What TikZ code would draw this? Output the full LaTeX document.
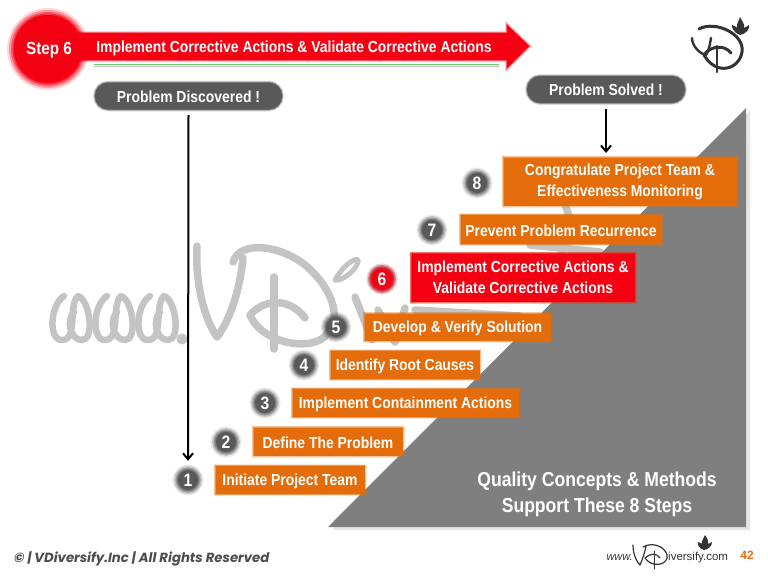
\documentclass[tikz,border=0pt]{standalone}
\usepackage{fontspec}
\setmainfont{Liberation Sans}[FakeStretch=0.87]
\newfontfamily\footfont{Poppins}
\newfontfamily\plainfont{Liberation Sans}
\usetikzlibrary{arrows.meta}
\definecolor{orangebox}{HTML}{E46C0A}
\definecolor{redbox}{HTML}{F40012}
\definecolor{pillgray}{HTML}{595959}
\definecolor{trigray}{HTML}{7F7F7F}
\definecolor{wmgray}{HTML}{C4C4C4}
\definecolor{inkgray}{HTML}{333333}
\tikzset{
  soft/.style={fill=#1,
    preaction={draw=#1,line width=4pt,opacity=.15},
    preaction={draw=#1,line width=2.5pt,opacity=.3},
    preaction={draw=#1,line width=1.2pt,opacity=.5}},
  softbig/.style={fill=#1,
    preaction={draw=#1,line width=14pt,opacity=.15},
    preaction={draw=#1,line width=10pt,opacity=.3},
    preaction={draw=#1,line width=6pt,opacity=.4},
    preaction={draw=#1,line width=3pt,opacity=.5}},
  softnum/.style={fill=#1,
    preaction={draw=#1,line width=11pt,opacity=.12},
    preaction={draw=#1,line width=8pt,opacity=.25},
    preaction={draw=#1,line width=5pt,opacity=.4},
    preaction={draw=#1,line width=2.5pt,opacity=.5}},
  stepbox/.style={soft=orangebox,inner sep=0pt,align=center,text=white,
    execute at begin node={\rule{0pt}{15pt}},
    font=\fontsize{16}{21}\selectfont\bfseries},
  numdot/.style={circle,softnum=pillgray,minimum size=20pt,inner sep=0pt,text=white,
    font=\fontsize{18}{18}\selectfont\bfseries},
  pill/.style={rounded corners=13pt,soft=pillgray,inner sep=0pt,text=white,
    execute at begin node={\rule{0pt}{13pt}},
    font=\fontsize{16}{18}\selectfont\bfseries},
  flow/.style={black,line width=2pt,-{Straight Barb[length=6pt,width=10pt,line width=2pt]}},
  wm/.style={draw=wmgray,line width=7.5pt,line cap=round,line join=round},
  ink/.style={draw=inkgray,line width=2.4pt,line cap=round,line join=round},
  inks/.style={draw=inkgray,line width=1pt,line cap=round,line join=round},
}
\begin{document}
\begin{tikzpicture}[x=1pt,y=-1pt]
\useasboundingbox (0,0) rectangle (768,576);
% watermark
\foreach \dx in {0,43,86}{
\begin{scope}[xshift=\dx pt]
\draw[wm,line width=6.5pt] (64,296) .. controls (50,305) and (48,340) .. (62,340) .. controls (78,340) and (68,305) .. (78,296) .. controls (90,300) and (95,340) .. (82,340) .. controls (70,340) and (66,320) .. (74,312);
\end{scope}}
\fill[wmgray] (182,339) circle (5.5pt);
\draw[wm] (197,246) .. controls (195,285) and (205,320) .. (217,337) .. controls (230,320) and (240,290) .. (243,258);
\draw[wm] (233,262) .. controls (240,240) and (280,245) .. (305,265) .. controls (335,290) and (345,325) .. (320,340) .. controls (300,350) and (260,340) .. (250,315) .. controls (265,298) and (290,298) .. (305,318);
\draw[wm] (274,277) -- (274,349);
\draw[wm,line width=5pt] (335,280) .. controls (345,262) and (360,255) .. (358,262) .. controls (355,272) and (340,282) .. (335,280);
\draw[wm] (355,297) -- (372,340);
\draw[wm] (378,310) -- (395,342) -- (405,308);
\draw[wm] (415,310) -- (520,316);
\draw[wm] (530,245) -- (600,252);
\draw[wm] (563,198) -- (572,225) -- (556,268);
\draw[wm] (555,240) -- (600,268);
% triangle
\fill[gray!40,opacity=.5] (332,530) -- (750,530) -- (750,110) -- cycle;
\fill[trigray] (328,527) -- (746,527) -- (746,108) -- cycle;
% header bar
\fill[softbig=redbox,draw=none] (48,49) circle (34pt);
\path[soft=redbox] (70,33) -- (507,33) -- (507,25) -- (529,46) -- (507,68) -- (507,60) -- (70,60) -- cycle;
\fill[redbox] (48,49) circle (34pt);
\draw[draw=black!25,line width=.6pt] (94,66) -- (499,66);
\draw[draw=green!45!gray!80,line width=1.6pt] (94,64.5) -- (499,64.5);
\node (stepname) [text=white,font=\fontsize{17.5}{18}\selectfont\bfseries] at (49,50) {Step 6};
\node (stepdesc) [text=white,font=\fontsize{16}{18}\selectfont\bfseries] at (294,48) {Implement Corrective Actions \& Validate Corrective Actions};
% pills
\node (found) [pill,minimum width=187pt,minimum height=27pt] at (188.5,96) {Problem Discovered !};
\node (solved) [pill,minimum width=158pt,minimum height=27pt] at (606,89.5) {Problem Solved !};
% boxes
\node (b8) [stepbox,minimum width=233pt,minimum height=48pt] at (620,181.5) {Congratulate Project Team \&\\Effectiveness Monitoring};
\node (b7) [stepbox,minimum width=201pt,minimum height=29pt] at (561,229.5) {Prevent Problem Recurrence};
\node (b6) [stepbox,soft=redbox,minimum width=223pt,minimum height=48pt] at (523,277.5) {Implement Corrective Actions \&\\Validate Corrective Actions};
\node (b5) [stepbox,minimum width=186pt,minimum height=27pt] at (457.5,327) {Develop \& Verify Solution};
\node (b4) [stepbox,minimum width=149pt,minimum height=28pt] at (405,365) {Identify Root Causes};
\node (b3) [stepbox,minimum width=226pt,minimum height=28pt] at (405.5,403) {Implement Containment Actions};
\node (b2) [stepbox,minimum width=149pt,minimum height=28pt] at (328,441.5) {Define The Problem};
\node (b1) [stepbox,minimum width=149pt,minimum height=28pt] at (290,480) {Initiate Project Team};
% numbers
\node (n8) [numdot] at (477,183) {8};
\node (n7) [numdot] at (432,230) {7};
\node (n6) [numdot,softnum=redbox] at (382,279) {6};
\node (n5) [numdot] at (336,327) {5};
\node (n4) [numdot] at (304,365) {4};
\node (n3) [numdot] at (265,403) {3};
\node (n2) [numdot] at (226,442) {2};
\node (n1) [numdot] at (188,480) {1};
% arrows
\draw[flow,shorten >=9pt] (found.south |- 0,115) -- (n1.north);
\draw[flow] (solved.south |- 0,109) -- (606,153);
% triangle text
\node (quality) [text=white,align=center,font=\fontsize{20.2}{26}\selectfont\bfseries] at (597,494) {Quality Concepts \& Methods\\Support These 8 Steps};
% footer
\node (copy) [anchor=west,inner sep=0pt,text=black!70,font=\footfont\fontsize{13.25}{15}\selectfont\bfseries\itshape] at (14,558.5) {© | VDiversify.Inc | All Rights Reserved};
\node (page) [text=orangebox,font=\plainfont\fontsize{12}{14}\selectfont\bfseries] at (747,555) {42};
% top logo
\draw[ink] (692,38) .. controls (692,46) and (700,54) .. (706,55) .. controls (709,50) and (710,44) .. (711,38);
\draw[ink,line width=3pt] (699,29) .. controls (715,20) and (745,34) .. (742,52) .. controls (739,70) and (716,76) .. (704,55) .. controls (710,46) and (724,44) .. (731,53);
\draw[ink] (717,46) -- (717,72);
\fill[inkgray] (740,35) .. controls (734,33) and (731,27) .. (732,25) .. controls (735,26) and (736,27) .. (737,28) .. controls (736,24) and (739,21) .. (740,17) .. controls (742,21) and (745,24) .. (744,28) .. controls (746,27) and (748,26) .. (749,25) .. controls (750,29) and (746,34) .. (740,35) -- cycle;
% bottom logo
\node (foot1) [anchor=east,inner sep=0pt,text=inkgray,font=\plainfont\fontsize{11}{12}\selectfont\itshape] at (633,558) {www.};
\draw[inks,line width=1.2pt] (633,545) .. controls (633,555) and (637,562) .. (640,565) .. controls (643,558) and (645,552) .. (646,546);
\draw[inks,line width=1.2pt] (643,547) .. controls (655,540) and (669,550) .. (667,558) .. controls (665,566) and (651,567) .. (645,558) .. controls (650,553) and (657,553) .. (660,558);
\draw[inks] (654,551) -- (654,569);
\node (foot2) [anchor=west,inner sep=0pt,text=inkgray,font=\plainfont\fontsize{11.5}{12}\selectfont] at (668,558) {iversify.com};
\fill[inkgray] (704,550) .. controls (699,549) and (697,544) .. (698,542) .. controls (700,543) and (701,543) .. (702,544) .. controls (701,541) and (704,538) .. (705,535) .. controls (707,538) and (709,541) .. (708,544) .. controls (710,543) and (711,543) .. (712,542) .. controls (712,546) and (709,549) .. (704,550) -- cycle;
\end{tikzpicture}
\end{document}
